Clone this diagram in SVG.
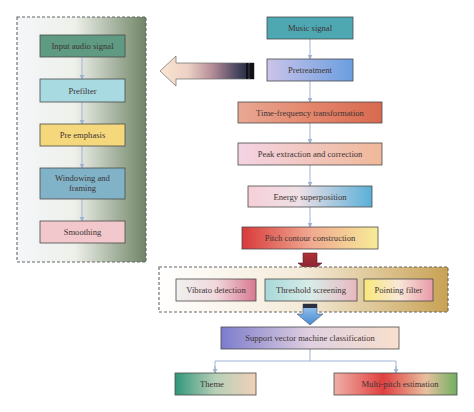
<svg xmlns="http://www.w3.org/2000/svg" width="474" height="412" viewBox="0 0 474 412">
<style>
text{font-family:"Liberation Serif","Times New Roman",serif;font-size:8.6px;fill:#3e3434;text-anchor:middle}
.b{stroke:#4a4a4a;stroke-width:0.8}
.c{stroke:#9fb3d3;stroke-width:1;fill:none}
.d{fill:none;stroke:#666;stroke-width:1.1;stroke-dasharray:3,2}
</style>
<defs>
<marker id="ah" viewBox="0 0 6 6" refX="5" refY="3" markerWidth="5" markerHeight="5" orient="auto"><path d="M0,0L6,3L0,6z" fill="#9fb3d3"/></marker>
<linearGradient id="gLeft" x1="0" x2="1"><stop offset="0" stop-color="#f4f6fa"/><stop offset="0.45" stop-color="#eef0ea"/><stop offset="1" stop-color="#6f8566"/></linearGradient>
<linearGradient id="gArr" x1="0" x2="1"><stop offset="0" stop-color="#fbe6d2"/><stop offset="0.3" stop-color="#ecd0c4"/><stop offset="0.55" stop-color="#b68e98"/><stop offset="0.85" stop-color="#3f3f5a"/><stop offset="1" stop-color="#1a1a2a"/></linearGradient>
<linearGradient id="gPre" x1="0" x2="1"><stop offset="0" stop-color="#cbc4ea"/><stop offset="1" stop-color="#6a9ee0"/></linearGradient>
<linearGradient id="gTf" x1="0" x2="1"><stop offset="0" stop-color="#e9a894"/><stop offset="0.5" stop-color="#e4866c"/><stop offset="1" stop-color="#d8694e"/></linearGradient>
<linearGradient id="gPk" x1="0" x2="1"><stop offset="0" stop-color="#f4d4e4"/><stop offset="1" stop-color="#efb898"/></linearGradient>
<linearGradient id="gEn" x1="0" x2="1"><stop offset="0" stop-color="#f6cfd8"/><stop offset="0.4" stop-color="#f0e0e6"/><stop offset="1" stop-color="#5ab0d8"/></linearGradient>
<linearGradient id="gPc" x1="0" x2="1"><stop offset="0" stop-color="#d83a3a"/><stop offset="0.5" stop-color="#f0a890"/><stop offset="1" stop-color="#f8ec98"/></linearGradient>
<linearGradient id="gMid" x1="0" x2="1"><stop offset="0" stop-color="#ffffff"/><stop offset="0.5" stop-color="#f4ead8"/><stop offset="1" stop-color="#c8a254"/></linearGradient>
<linearGradient id="gVib" x1="0" x2="1"><stop offset="0" stop-color="#f0f0f0"/><stop offset="0.5" stop-color="#f0d8dc"/><stop offset="1" stop-color="#d87890"/></linearGradient>
<linearGradient id="gThr" x1="0" x2="1"><stop offset="0" stop-color="#a8d8d8"/><stop offset="0.5" stop-color="#d8ece8"/><stop offset="1" stop-color="#e8b8c0"/></linearGradient>
<linearGradient id="gPt" x1="0" x2="1"><stop offset="0" stop-color="#f8e878"/><stop offset="0.5" stop-color="#f8e8d8"/><stop offset="1" stop-color="#e89aa8"/></linearGradient>
<linearGradient id="gRed" x1="0" x2="0" y1="0" y2="1"><stop offset="0" stop-color="#b03038"/><stop offset="1" stop-color="#7a2030"/></linearGradient>
<linearGradient id="gBlue" x1="0" x2="0" y1="0" y2="1"><stop offset="0" stop-color="#9cc8f0"/><stop offset="1" stop-color="#4a8ad0"/></linearGradient>
<linearGradient id="gSvm" x1="0" x2="1"><stop offset="0" stop-color="#7c7ccc"/><stop offset="0.5" stop-color="#e0d0e0"/><stop offset="1" stop-color="#f8e0cc"/></linearGradient>
<linearGradient id="gTh" x1="0" x2="1"><stop offset="0" stop-color="#30967a"/><stop offset="0.5" stop-color="#b8d0b8"/><stop offset="1" stop-color="#f0d0b8"/></linearGradient>
<linearGradient id="gMp" x1="0" x2="1"><stop offset="0" stop-color="#f0b0a8"/><stop offset="0.4" stop-color="#e04040"/><stop offset="0.75" stop-color="#e8c0a0"/><stop offset="1" stop-color="#70b060"/></linearGradient>
</defs>

<g id="left-panel">
<rect x="17" y="17" width="129" height="245" fill="url(#gLeft)"/>
<rect x="17" y="17" width="129" height="245" class="d"/>
</g>

<g id="connectors">
<line class="c" x1="82" y1="57" x2="82" y2="79" marker-end="url(#ah)"/>
<line class="c" x1="82" y1="102" x2="82" y2="124" marker-end="url(#ah)"/>
<line class="c" x1="82" y1="146" x2="82" y2="168" marker-end="url(#ah)"/>
<line class="c" x1="82" y1="199" x2="82" y2="221" marker-end="url(#ah)"/>
<line class="c" x1="310" y1="39" x2="310" y2="59" marker-end="url(#ah)"/>
<line class="c" x1="310" y1="81" x2="310" y2="102" marker-end="url(#ah)"/>
<line class="c" x1="310" y1="123" x2="310" y2="143" marker-end="url(#ah)"/>
<line class="c" x1="310" y1="165" x2="310" y2="186" marker-end="url(#ah)"/>
<line class="c" x1="310" y1="207" x2="310" y2="227" marker-end="url(#ah)"/>
<path class="c" d="M310,349V361M215,373V361H396V373"/>
<line class="c" x1="215" y1="366" x2="215" y2="373" marker-end="url(#ah)"/>
<line class="c" x1="396" y1="366" x2="396" y2="373" marker-end="url(#ah)"/>
</g>

<g id="n-input"><rect class="b" x="40" y="35" width="85" height="22" fill="#5f9a82"/><text x="82.5" y="49">Input audio signal</text></g>
<g id="n-prefilter"><rect class="b" x="40" y="79" width="85" height="23" fill="#a8dae2"/><text x="82.5" y="93.5">Prefilter</text></g>
<g id="n-preemph"><rect class="b" x="40" y="124" width="85" height="22" fill="#f6d87c"/><text x="82.5" y="138">Pre emphasis</text></g>
<g id="n-window"><rect class="b" x="40" y="168" width="85" height="31" fill="#80b2c8"/><text x="82.5" y="181">Windowing and</text><text x="82.5" y="191">framing</text></g>
<g id="n-smooth"><rect class="b" x="40" y="221" width="85" height="22" fill="#f2c8cc"/><text x="82.5" y="235">Smoothing</text></g>

<g id="big-arrow">
<path d="M160,71L176,56V63H254V79H176V86Z" fill="url(#gArr)" stroke="#6a6a6a" stroke-width="0.7"/>
<rect x="246" y="63" width="2" height="16" fill="#111"/>
<rect x="250" y="63" width="4" height="16" fill="#111"/>
</g>

<g id="n-music"><rect class="b" x="267" y="17" width="86" height="22" fill="#4ea8b2"/><text x="310" y="31">Music signal</text></g>
<g id="n-pretreat"><rect class="b" x="267" y="59" width="86" height="22" fill="url(#gPre)"/><text x="310" y="73">Pretreatment</text></g>
<g id="n-tf"><rect class="b" x="238" y="102" width="144" height="21" fill="url(#gTf)"/><text x="310" y="115.5">Time-frequency transformation</text></g>
<g id="n-peak"><rect class="b" x="238" y="143" width="144" height="22" fill="url(#gPk)"/><text x="310" y="157">Peak extraction and correction</text></g>
<g id="n-energy"><rect class="b" x="248" y="186" width="124" height="21" fill="url(#gEn)"/><text x="310" y="199.5">Energy superposition</text></g>
<g id="n-pitch"><rect class="b" x="242" y="227" width="136" height="22" fill="url(#gPc)"/><text x="310" y="241">Pitch contour construction</text></g>

<g id="red-arrow">
<path d="M303,253H317V263H322L310,273L298,263H303Z" fill="url(#gRed)" stroke="#5a2028" stroke-width="0.6"/>
</g>

<g id="mid-panel">
<rect x="159" y="267" width="289" height="45" fill="url(#gMid)"/>
<rect x="159" y="267" width="289" height="45" class="d"/>
</g>
<g id="n-vibrato"><rect class="b" x="176" y="279" width="80" height="22" fill="url(#gVib)"/><text x="216" y="293">Vibrato detection</text></g>
<g id="n-threshold"><rect class="b" x="265" y="279" width="92" height="22" fill="url(#gThr)"/><text x="311" y="293">Threshold screening</text></g>
<g id="n-pointing"><rect class="b" x="364" y="279" width="69" height="22" fill="url(#gPt)"/><text x="398.5" y="293">Pointing filter</text></g>

<g id="blue-arrow">
<path d="M303,304H317V314H323L310,325L297,314H303Z" fill="url(#gBlue)" stroke="#4a5a7a" stroke-width="0.6"/>
<rect x="303" y="304" width="14" height="4" fill="#2a3040"/>
</g>

<g id="n-svm"><rect class="b" x="221" y="327" width="178" height="22" fill="url(#gSvm)"/><text x="310" y="341">Support vector machine classification</text></g>
<g id="n-theme"><rect class="b" x="175" y="373" width="81" height="22" fill="url(#gTh)"/><text x="212" y="387">Theme</text></g>
<g id="n-multi"><rect class="b" x="334" y="373" width="123" height="22" fill="url(#gMp)"/><text x="400" y="387">Multi-pitch estimation</text></g>
</svg>
